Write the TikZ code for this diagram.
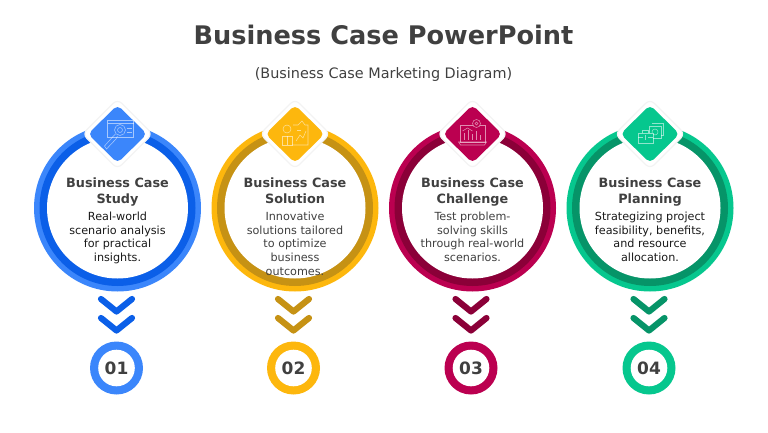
\documentclass[tikz,border=0pt]{standalone}
\usepackage{fontspec}
\setmainfont{DejaVu Sans}
\definecolor{inktitle}{HTML}{404040}
\definecolor{inkdark}{HTML}{1A1A1A}
\definecolor{inkgray}{HTML}{404040}
\definecolor{bluelight}{HTML}{3B86FB}
\definecolor{bluedark}{HTML}{0B5FE8}
\definecolor{yellowlight}{HTML}{FDB70D}
\definecolor{yellowdark}{HTML}{C69214}
\definecolor{redlight}{HTML}{BB0050}
\definecolor{reddark}{HTML}{8B0038}
\definecolor{greenlight}{HTML}{06C78E}
\definecolor{greendark}{HTML}{069468}
\definecolor{haloedge}{HTML}{F3F3F3}
\tikzset{
  headtext/.style={text=inktitle,align=center,inner sep=0pt,anchor=north,font=\fontsize{12.8}{15.5}\selectfont\bfseries},
  bodytext/.style={align=center,inner sep=0pt,anchor=north,font=\fontsize{11.2}{13.6}\selectfont},
  numtext/.style={text=inktitle,inner sep=0pt,font=\fontsize{17}{20}\selectfont\bfseries},
  chevron/.style={line width=6.2pt,line cap=round,line join=round},
  iconline/.style={draw=white,draw opacity=0.55,line width=0.55pt,fill=none}
}
\begin{document}
\begin{tikzpicture}[x=1pt,y=-1pt]
  \useasboundingbox (0,0) rectangle (768,433);
  % title
  \node[text=inktitle,inner sep=0pt,font=\fontsize{25.6}{30}\selectfont\bfseries] (title) at (383.5,35) {Business Case PowerPoint};
  \node[text=inktitle,inner sep=0pt,font=\fontsize{14.4}{17}\selectfont] (subtitle) at (383.5,74.5) {(Business Case Marketing Diagram)};
  % columns
  \foreach \i/\cx/\nx/\light/\dark/\headline/\bodyline/\bodyink/\num in {
    1/117.5/116.5/bluelight/bluedark/{Business Case\\Study}/{Real-world\\scenario analysis\\for practical\\insights.}/inkdark/01,
    2/295/293.5/yellowlight/yellowdark/{Business Case\\Solution}/{Innovative\\solutions tailored\\to optimize\\business\\outcomes.}/inkgray/02,
    3/472.5/471/redlight/reddark/{Business Case\\Challenge}/{Test problem-\\solving skills\\through real-world\\scenarios.}/inkgray/03,
    4/650/649/greenlight/greendark/{Business Case\\Planning}/{Strategizing project\\feasibility, benefits,\\and resource\\allocation.}/inkdark/04}
  {
    % ring
    \fill[\light] (\cx,208) circle [radius=83.5];
    \fill[\dark] (\cx,208) circle [radius=78];
    \fill[white] (\cx,208) circle [radius=70.5];
    % diamond
    \draw[haloedge,fill=white,line width=1.2pt,rounded corners=6pt] (\cx,99) -- (\cx+35,134) -- (\cx,169) -- (\cx-35,134) -- cycle;
    \fill[\light,rounded corners=5pt] (\cx,105) -- (\cx+29.5,134) -- (\cx,163) -- (\cx-29.5,134) -- cycle;
    % text
    \node[headtext] (head\i) at (\cx,178) {\headline};
    \node[bodytext,text=\bodyink] (body\i) at (\cx,212) {\bodyline};
    % chevrons
    \draw[\dark,chevron] (\nx-15.5,299) -- (\nx,311.5) -- (\nx+15.5,299);
    \draw[\dark,chevron] (\nx-15.5,318) -- (\nx,330.5) -- (\nx+15.5,318);
    % number
    \fill[\light] (\nx,368) circle [radius=26.5];
    \fill[white] (\nx,368) circle [radius=18.3];
    \node[numtext] (num\i) at (\nx,368) {\num};
  }
  % icon 1
  \begin{scope}[shift={(117.5,134)}]
    \draw[iconline] (-10,-14) rectangle (16,3);
    \draw[iconline] (-10,-10.5) -- (16,-10.5);
    \draw[iconline] (2.5,-4) circle [radius=5.5];
    \draw[iconline] (2.5,-4) circle [radius=2.5];
    \draw[iconline] (-2,0) -- (-4,2) -- (-13,12) -- (-11,15) -- (-1.5,5) -- (0,2);
    \draw[iconline] (9,-6) -- (14,-6) (9,-2) -- (14,-2);
  \end{scope}
  % icon 2
  \begin{scope}[shift={(295,134)}]
    \draw[iconline] (-8,-5) circle [radius=4];
    \draw[iconline] (-13,11) -- (-13,2) -- (-3,2) -- (-3,11) -- cycle;
    \draw[iconline] (-8,2) -- (-8,11);
    \draw[iconline] (-2,-9) -- (3,-9) -- (7,-13) -- (10,-9) -- (13,-9) -- (13,11) -- (-3,11);
    \draw[iconline] (1,7) -- (5,1) -- (8,4) -- (11,-3);
    \draw[iconline] (2,-4) -- (6,-4);
  \end{scope}
  % icon 3
  \begin{scope}[shift={(472.5,134)}]
    \draw[iconline] (-12.5,-9) rectangle (12.5,8);
    \draw[iconline] (-14,8) -- (14,8) -- (12,11) -- (-12,11) -- cycle;
    \draw[iconline,fill=redlight] (4,-10.5) circle [radius=4];
    \draw[iconline] (4,-10.5) circle [radius=1.5];
    \draw[iconline] (-8,6) -- (-8,-1) (-4,6) -- (-4,-4) (0,6) -- (0,0) (4,6) -- (4,-3) (8,6) -- (8,1);
    \draw[iconline] (-10,-3) -- (-5,-6) -- (0,-3);
  \end{scope}
  % icon 4
  \begin{scope}[shift={(650,134)}]
    \draw[iconline] (-1,-8) rectangle (11,4);
    \draw[iconline] (1.5,-11) -- (13.5,-11) -- (13.5,1) -- (11,1);
    \draw[iconline] (5,-2) circle [radius=3];
    \draw[iconline,fill=greenlight] (-12,-1) rectangle (3,9);
    \draw[iconline] (-8,-1) -- (-8,-4) -- (-2,-4) -- (-2,-1);
    \draw[iconline] (-4.5,1.5) -- (-4.5,6.5);
    \draw[iconline] (-12,3) -- (-7,3) (-2,3) -- (3,3);
  \end{scope}
\end{tikzpicture}
\end{document}
